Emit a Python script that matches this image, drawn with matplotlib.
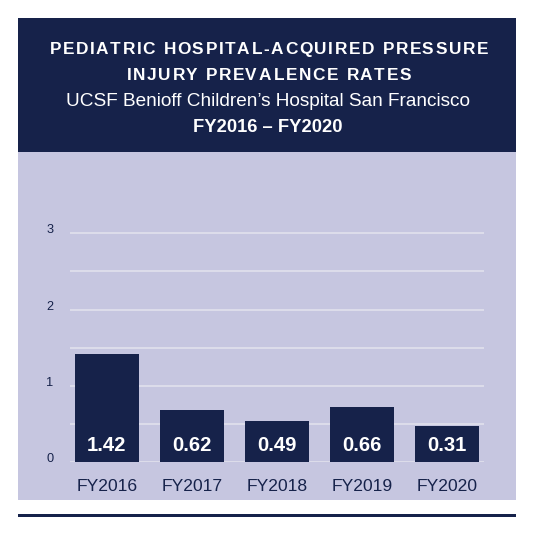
import numpy as np
import matplotlib
matplotlib.use("Agg")
import matplotlib.pyplot as plt
from matplotlib.patches import Rectangle
from matplotlib.font_manager import FontProperties, findfont
from matplotlib.ft2font import FT2Font

# data
years = ["FY2016", "FY2017", "FY2018", "FY2019", "FY2020"]
rates = [1.42, 0.62, 0.49, 0.66, 0.31]          # printed values
bar_heights = [1.42, 0.69, 0.54, 0.73, 0.48]    # heights as drawn in the source
y_labels = [0, 1, 2, 3]
grid_vals = [0, 0.5, 1, 1.5, 2, 2.5, 3]

NAVY = "#16224a"
LAVENDER = "#c6c6e0"
GRID = "#e4e4ee"
FONT = "Liberation Sans"

W, H = 535, 555
DPI = 100
fig = plt.figure(figsize=(W / DPI, H / DPI), dpi=DPI)


def fx(x):
    return x / W


def fy(y):
    return 1 - y / H


def box(x0, y0, x1, y1, color):
    fig.add_artist(Rectangle((fx(x0), fy(y1)), (x1 - x0) / W, (y1 - y0) / H,
                             transform=fig.transFigure, color=color, lw=0, zorder=0))


def spaced_text(s, cx, baseline, size, tracking, weight="bold"):
    # letter-spaced text, placed char by char (pixel coords)
    prop = FontProperties(family=FONT, weight=weight, size=size)
    ft = FT2Font(findfont(prop))
    px = size * DPI / 72
    ft.set_size(px, 72)
    glyphs = []
    for ch in s:
        g = ft.load_char(ord(ch))
        glyphs.append((ch, g.linearHoriAdvance / 65536, g.horiBearingX / 64))
    total = sum(a for _, a, _ in glyphs) + tracking * (len(s) - 1)
    pen = cx - total / 2
    for ch, adv, bx in glyphs:
        if ch != " ":
            fig.text(fx(pen + bx), fy(baseline), ch, fontproperties=prop,
                     color="white", ha="left", va="baseline")
        pen += adv + tracking


box(18, 18, 516, 152, NAVY)
box(18, 152, 516, 500, LAVENDER)
box(18, 514, 516, 517, NAVY)

spaced_text("PEDIATRIC HOSPITAL-ACQUIRED PRESSURE", 268, 54, 12.4, 1.62)
spaced_text("INJURY PREVALENCE RATES", 268, 79.5, 12.4, 1.62)
fig.text(fx(268), fy(105.5), "UCSF Benioff Children\u2019s Hospital San Francisco",
         family=FONT, size=13.7, color="white", ha="center", va="baseline")
fig.text(fx(268), fy(132), "FY2016 \u2013 FY2020", family=FONT, weight="bold",
         size=13.2, color="white", ha="center", va="baseline")

# chart
ax = fig.add_axes([fx(70), fy(462.3), 414 / W, (462.3 - 218) / H])
ax.set_facecolor("none")
x = np.arange(len(years))
ax.bar(x, bar_heights, width=0.75, color=NAVY, zorder=3)
ax.set_xlim(-0.432, 4.433)
ax.set_ylim(0, 3.2)

ax.set_yticks(grid_vals)
ax.yaxis.grid(True, color=GRID, lw=1.1, zorder=0)
ax.tick_params(left=False, labelleft=False, bottom=False)
for s in ax.spines.values():
    s.set_visible(False)

ax.set_xticks(x)
ax.set_xticklabels(years, family=FONT, size=12.6, color=NAVY)
ax.tick_params(axis="x", pad=8.5)

for v in y_labels:
    ax.text(-0.67, v, str(v), family=FONT, size=9.2, color=NAVY,
            ha="center", va="baseline")

for xi, r in zip(x, rates):
    ax.text(xi, 0.22, f"{r:.2f}", family=FONT, weight="bold", size=14.6,
            color="white", ha="center", va="center", zorder=4)

fig.savefig("out.png", dpi=DPI, facecolor="white")
